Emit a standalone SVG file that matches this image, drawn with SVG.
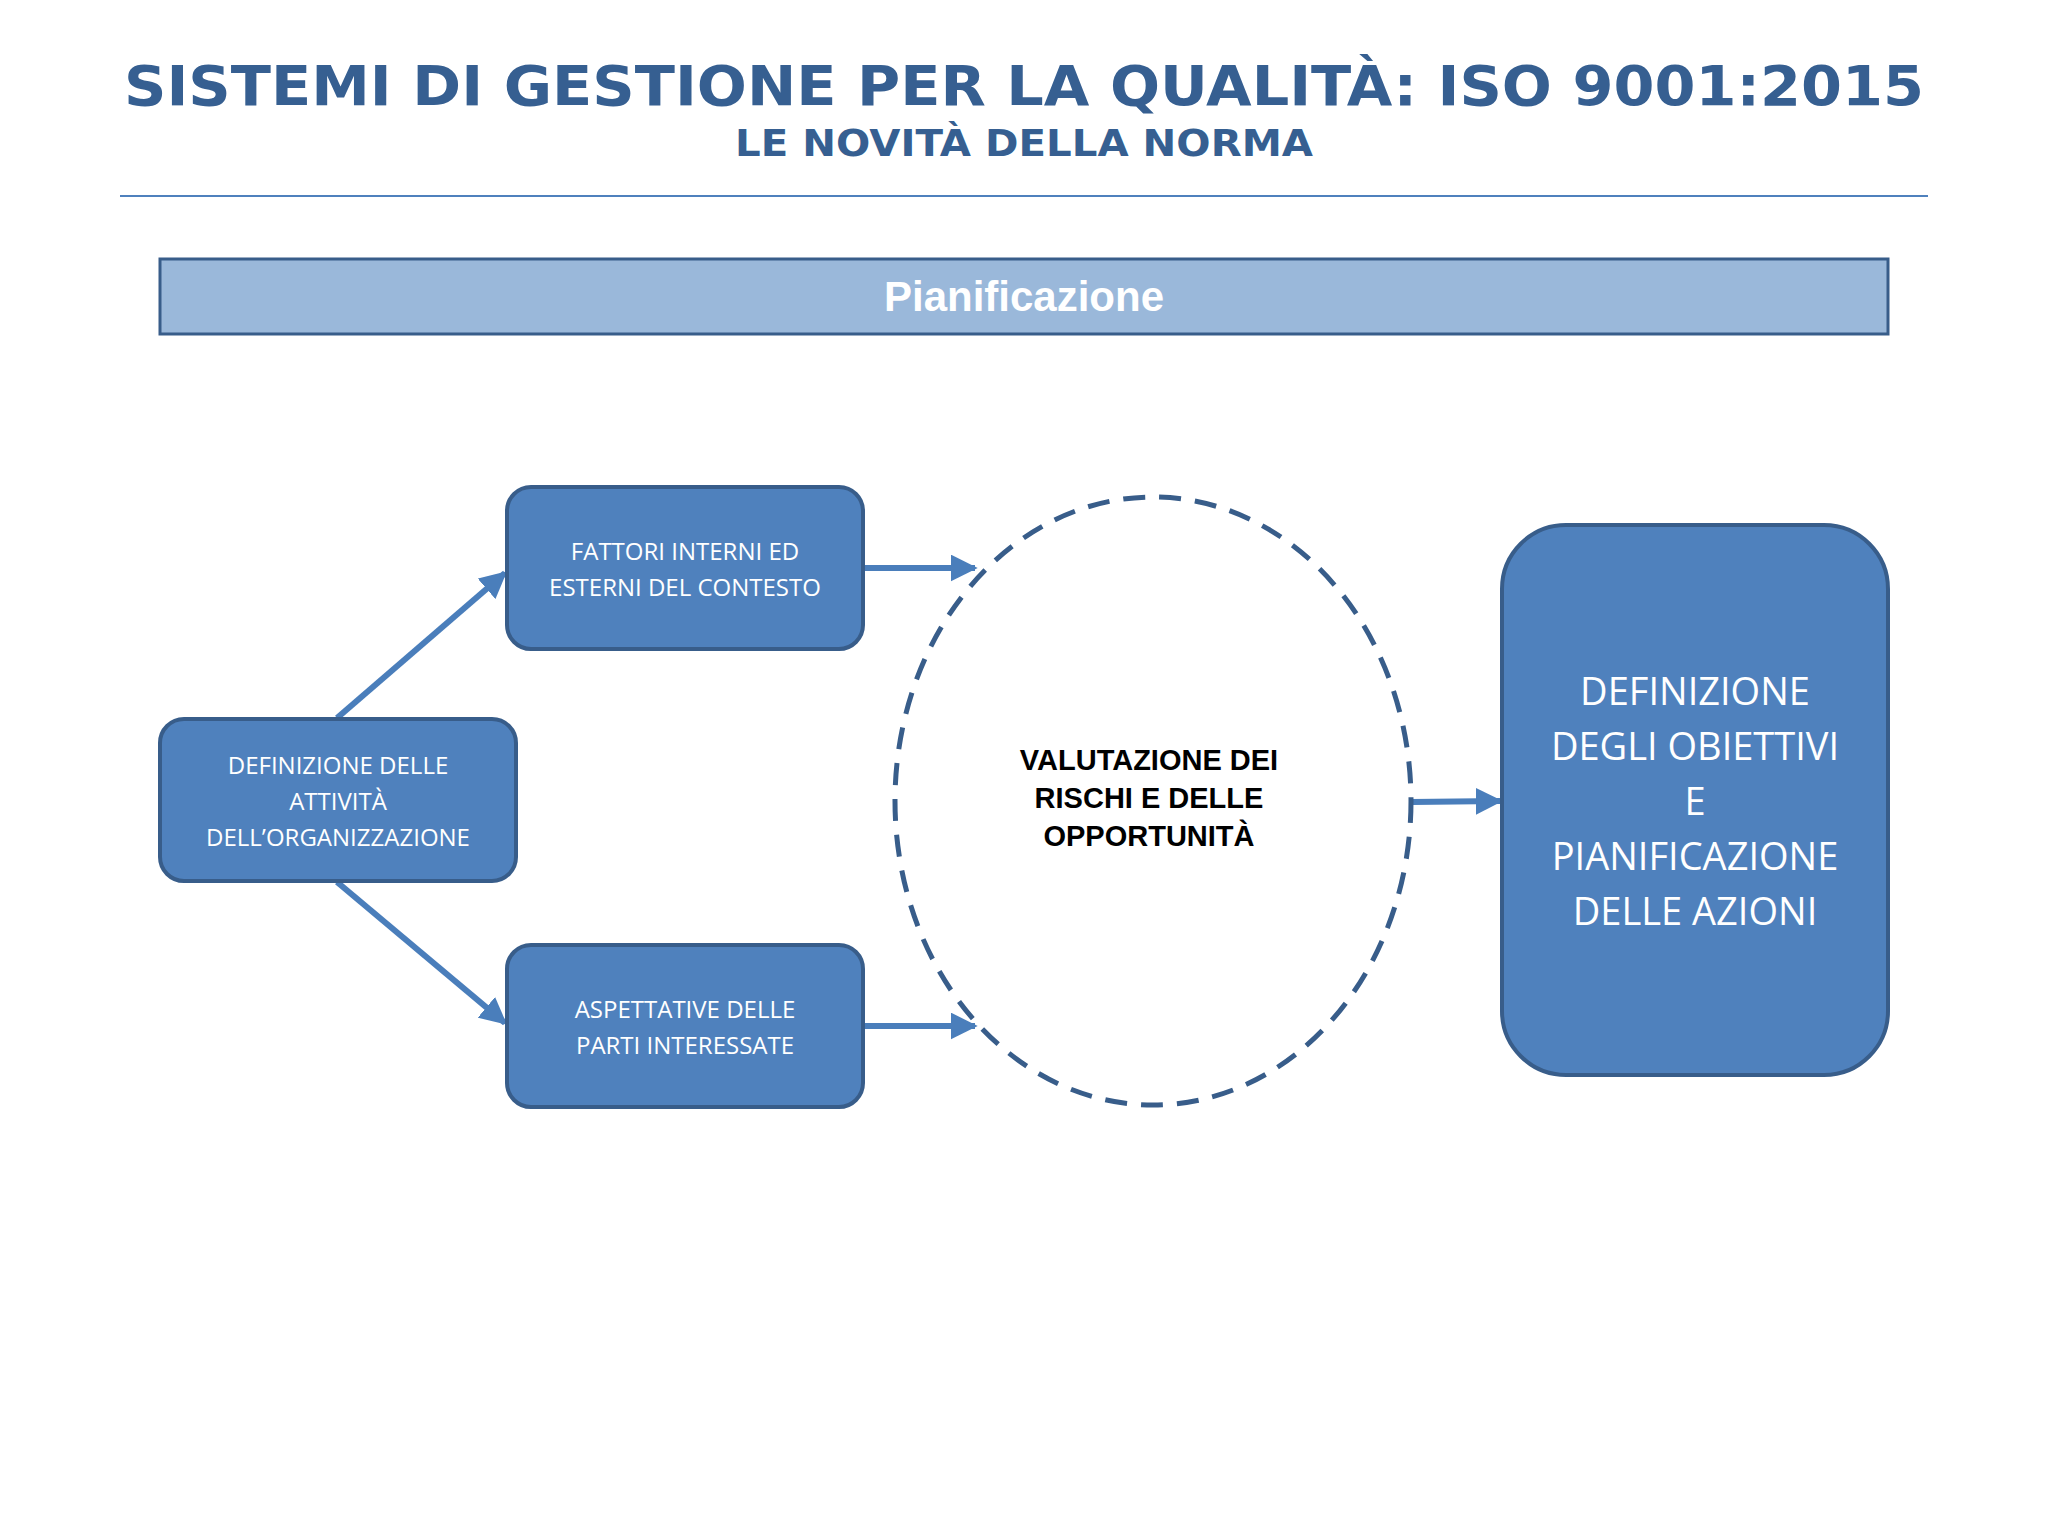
<svg xmlns="http://www.w3.org/2000/svg" width="2048" height="1536" viewBox="0 0 2048 1536">
<defs>
<style>
.box{fill:#4f81bd;stroke:#385d8a;stroke-width:4}
.bt{font-family:"Open Sans","Liberation Sans",sans-serif;fill:#fff;font-size:24px;text-anchor:middle}
.ct{font-family:"Liberation Sans",Arial,sans-serif;font-weight:bold;fill:#000;font-size:29px;text-anchor:middle}
.con{stroke:#4a7ebb;stroke-width:6;fill:none;marker-end:url(#ah)}
</style>
<marker id="ah" viewBox="0 0 10 10" refX="9" refY="5" markerWidth="4.5" markerHeight="4.5" orient="auto" markerUnits="strokeWidth"><path d="M0,0L10,5L0,10z" fill="#4a7ebb"/></marker>
</defs>
<rect width="2048" height="1536" fill="#fff"/>
<g id="title">
<text x="1024" y="105" font-family="DejaVu Sans,Verdana,sans-serif" font-weight="bold" font-size="56" fill="#365f91" text-anchor="middle" textLength="1800" lengthAdjust="spacingAndGlyphs">SISTEMI DI GESTIONE PER LA QUALITÀ: ISO 9001:2015</text>
<text x="1024" y="156" font-family="DejaVu Sans,Verdana,sans-serif" font-weight="bold" font-size="38" fill="#365f91" text-anchor="middle" textLength="578" lengthAdjust="spacingAndGlyphs">LE NOVITÀ DELLA NORMA</text>
<line x1="120" y1="196" x2="1928" y2="196" stroke="#4f81bd" stroke-width="2"/>
</g>
<g id="banner">
<rect x="160" y="259" width="1728" height="75" fill="#9ab8da" stroke="#385d8a" stroke-width="3"/>
<text x="1024" y="311" font-family="Liberation Sans,Arial,sans-serif" font-weight="bold" font-size="42" fill="#fff" text-anchor="middle">Pianificazione</text>
</g>
<g id="connectors">
<line class="con" x1="337" y1="718" x2="505" y2="573"/>
<line class="con" x1="337" y1="882" x2="505" y2="1023"/>
<line class="con" x1="865" y1="568" x2="975" y2="568"/>
<line class="con" x1="865" y1="1026" x2="975" y2="1026"/>
<line class="con" x1="1412" y1="802" x2="1500" y2="801"/>
</g>
<g id="n-def">
<rect class="box" x="160" y="719" width="356" height="162" rx="24"/>
<text class="bt" x="338" y="774">DEFINIZIONE DELLE</text>
<text class="bt" x="338" y="810">ATTIVITÀ</text>
<text class="bt" x="338" y="846">DELL’ORGANIZZAZIONE</text>
</g>
<g id="n-fattori">
<rect class="box" x="507" y="487" width="356" height="162" rx="24"/>
<text class="bt" x="685" y="560">FATTORI INTERNI ED</text>
<text class="bt" x="685" y="596">ESTERNI DEL CONTESTO</text>
</g>
<g id="n-aspett">
<rect class="box" x="507" y="945" width="356" height="162" rx="24"/>
<text class="bt" x="685" y="1018">ASPETTATIVE DELLE</text>
<text class="bt" x="685" y="1054">PARTI INTERESSATE</text>
</g>
<g id="n-val">
<ellipse cx="1153" cy="801" rx="258" ry="304" fill="none" stroke="#385d8a" stroke-width="5" stroke-dasharray="22,14"/>
<text class="ct" x="1149" y="770">VALUTAZIONE DEI</text>
<text class="ct" x="1149" y="808">RISCHI E DELLE</text>
<text class="ct" x="1149" y="846">OPPORTUNITÀ</text>
</g>
<g id="n-obj">
<rect class="box" x="1502" y="525" width="386" height="550" rx="64"/>
<g class="bt" style="font-size:38px">
<text x="1695" y="705">DEFINIZIONE</text>
<text x="1695" y="760">DEGLI OBIETTIVI</text>
<text x="1695" y="815">E</text>
<text x="1695" y="870">PIANIFICAZIONE</text>
<text x="1695" y="925">DELLE AZIONI</text>
</g>
</g>
</svg>
